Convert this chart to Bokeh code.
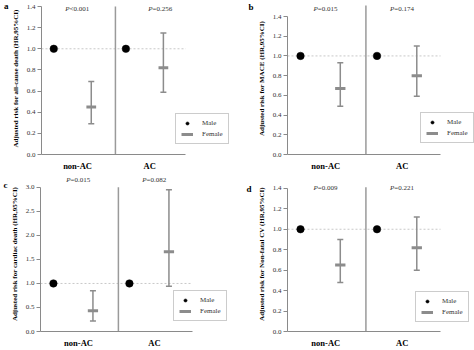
from bokeh.plotting import figure
from bokeh.models import (Label, Legend, LegendItem, FixedTicker, PrintfTickFormatter,
                          LinearAxis, Range1d)
from bokeh.layouts import column, row
from bokeh.embed import file_html
from bokeh.resources import INLINE

groups = ["non-AC", "AC"]
male_hr = [1.0, 1.0]

a_female = [0.45, 0.82]
a_lo = [0.29, 0.59]
a_hi = [0.69, 1.15]
a_p = ["<0.001", "=0.256"]

b_female = [0.67, 0.80]
b_lo = [0.49, 0.59]
b_hi = [0.93, 1.10]
b_p = ["=0.015", "=0.174"]

c_female = [0.43, 1.66]
c_lo = [0.22, 0.94]
c_hi = [0.85, 2.95]
c_p = ["=0.015", "=0.082"]

d_female = [0.65, 0.82]
d_lo = [0.48, 0.60]
d_hi = [0.90, 1.12]
d_p = ["=0.009", "=0.221"]

SERIF = "Liberation Serif"
GRAY = "#8c8c8c"
AXIS = "#8a8a8a"
TXT = "#333333"
XAX = 4.0  # data extent of the x axis line
H = 175
W = 237


def make_panel(letter, ylabel, ymax, ystep, fem, lo, hi, pvals, geom,
               letter_y, letter_standoff, divider_top_px, p_y, p_shift, legend_pos):
    # geom: frame left px, px of x=XAX, frame right px, frame top px,
    #       px where ymax sits, frame bottom px
    left, axis_end, frame_right, top, ymax_px, bottom = geom
    x_end = XAX * (frame_right - left) / (axis_end - left)
    y_end = ymax * (bottom - top) / (bottom - ymax_px)
    frame_h = bottom - top
    p = figure(width=W, height=H, x_range=(0, x_end), y_range=(0, y_end),
               output_backend="svg", toolbar_location=None, title=None,
               min_border_left=left, min_border_right=W - frame_right,
               min_border_top=top, min_border_bottom=H - bottom)
    p.outline_line_color = None
    p.xgrid.visible = False
    p.ygrid.visible = False
    p.background_fill_color = "white"
    p.border_fill_color = "white"

    centers = [1 + 2 * i for i in range(len(groups))]
    xm = [c - 0.66 for c in centers]
    xf = [c + 0.38 for c in centers]
    hw = 0.135
    xdiv = 2.05
    div_top = (bottom - divider_top_px) / frame_h * y_end

    p.line([0, XAX], [1.0, 1.0], line_color="#c8c8c8", line_dash="2 2", line_width=1)
    p.segment([xdiv], [0], [xdiv], [div_top], line_color="#9a9a9a", line_width=1.5)

    p.segment(xf, lo, xf, hi, line_color=GRAY, line_width=1.5)
    p.scatter(xf, lo, marker="dash", size=6, line_color=GRAY, line_width=1.5)
    p.scatter(xf, hi, marker="dash", size=6, line_color=GRAY, line_width=1.5)
    fem_r = p.segment([x - hw for x in xf], fem, [x + hw for x in xf], fem,
                      line_color=GRAY, line_width=3)
    male = p.scatter(xm, male_hr, marker="circle", size=7.5,
                     fill_color="black", line_color="black", line_width=0.5)

    legend = Legend(items=[LegendItem(label="Male", renderers=[male]),
                           LegendItem(label="Female", renderers=[fem_r])],
                    location=legend_pos, orientation="vertical",
                    label_text_font=SERIF, label_text_font_size="7px",
                    label_text_color=TXT, glyph_width=12, glyph_height=8,
                    label_standoff=9, padding=5, spacing=3, margin=0,
                    label_height=8,
                    border_line_color="#999999", border_line_width=1,
                    background_fill_color="white", background_fill_alpha=1)
    p.add_layout(legend)

    # y axis
    ticks = []
    v = 0.0
    while v <= ymax + 1e-9:
        ticks.append(round(v, 2))
        v += ystep
    yax = p.yaxis[0]
    yax.ticker = FixedTicker(ticks=ticks)
    yax.bounds = (0, ymax)
    yax.formatter = PrintfTickFormatter(format="%.1f")
    yax.axis_line_color = AXIS
    yax.major_tick_line_color = AXIS
    yax.major_tick_out = 4
    yax.major_tick_in = 0
    yax.minor_tick_line_color = None
    yax.minor_tick_out = 0
    yax.minor_tick_in = 0
    yax.major_label_text_font = SERIF
    yax.major_label_text_font_size = "7px"
    yax.major_label_text_color = TXT
    yax.major_label_standoff = 2
    yax.axis_label = ylabel
    yax.axis_label_text_font = SERIF
    yax.axis_label_text_font_style = "bold"
    yax.axis_label_text_font_size = "7px"
    yax.axis_label_text_color = "black"
    yax.axis_label_standoff = 4

    # panel letter, drawn as the single label of an outer left axis
    p.extra_y_ranges = {"letter": Range1d(0, frame_h)}
    tick = int(bottom - letter_y)
    lax = LinearAxis(y_range_name="letter", ticker=FixedTicker(ticks=[tick]),
                     major_label_overrides={tick: letter})
    lax.axis_line_color = None
    lax.major_tick_line_color = None
    lax.major_tick_out = 0
    lax.major_tick_in = 0
    lax.minor_tick_line_color = None
    lax.minor_tick_out = 0
    lax.minor_tick_in = 0
    lax.axis_label_standoff = 0
    lax.major_label_standoff = letter_standoff
    lax.major_label_text_font = SERIF
    lax.major_label_text_font_style = "bold"
    lax.major_label_text_font_size = "9px"
    lax.major_label_text_color = "black"
    p.add_layout(lax, "left")

    # x axis
    xax = p.xaxis[0]
    xax.ticker = FixedTicker(ticks=centers)
    xax.bounds = (0, XAX)
    xax.major_label_overrides = {c: g for c, g in zip(centers, groups)}
    xax.axis_line_color = AXIS
    xax.major_tick_line_color = None
    xax.major_tick_out = 0
    xax.major_tick_in = 0
    xax.minor_tick_line_color = None
    xax.minor_tick_out = 0
    xax.minor_tick_in = 0
    xax.axis_label_standoff = 0
    xax.major_label_text_font = SERIF
    xax.major_label_text_font_style = "bold"
    xax.major_label_text_font_size = "8.5px"
    xax.major_label_text_color = "black"
    xax.major_label_standoff = 6

    # p values
    for c, pv, sh in zip(centers, pvals, p_shift):
        p.add_layout(Label(x=c + sh, y=p_y, x_units="data", y_units="screen", text="P",
                           text_font=SERIF, text_font_style="italic", text_font_size="7px",
                           text_align="right", text_baseline="middle", x_offset=-8,
                           text_color=TXT))
        p.add_layout(Label(x=c + sh, y=p_y, x_units="data", y_units="screen", text=pv,
                           text_font=SERIF, text_font_size="7px",
                           text_align="left", text_baseline="middle", x_offset=-8,
                           text_color=TXT))
    return p


# row 1 frame: top 2, bottom 154; row 2 frame: top 1, bottom 158
pa = make_panel("a", "Adjusted risk for all-cause death (HR,95%CI)", 1.4, 0.2,
                a_female, a_lo, a_hi, a_p, (40, 185, 232, 2, 6, 154), 5, 0, 6, 146,
                [0.0, 0.3], (134, 10))
pb = make_panel("b", "Adjusted risk for MACE (HR,95%CI)", 1.4, 0.2,
                b_female, b_lo, b_hi, b_p, (50, 203, 237, 2, 16, 154), 6, 1, 5, 146,
                [0.0, 0.0], (133, 11))
pc = make_panel("c", "Adjusted risk for cardiac death (HR,95%CI)", 3.0, 0.5,
                c_female, c_lo, c_hi, c_p, (40, 192, 232, 1, 12, 158), 10, 0, 12, 152,
                [0.0, 0.0], (133, 10))
pd = make_panel("d", "Adjusted risk for Non-fatal CV (HR,95%CI)", 1.4, 0.2,
                d_female, d_lo, d_hi, d_p, (50, 203, 237, 1, 13, 158), 14, 3, 12, 144,
                [0.0, 0.0], (128, 9))

layout = column(row(pa, pb), row(pc, pd))
open("out.html", "w").write(file_html(layout, INLINE))
